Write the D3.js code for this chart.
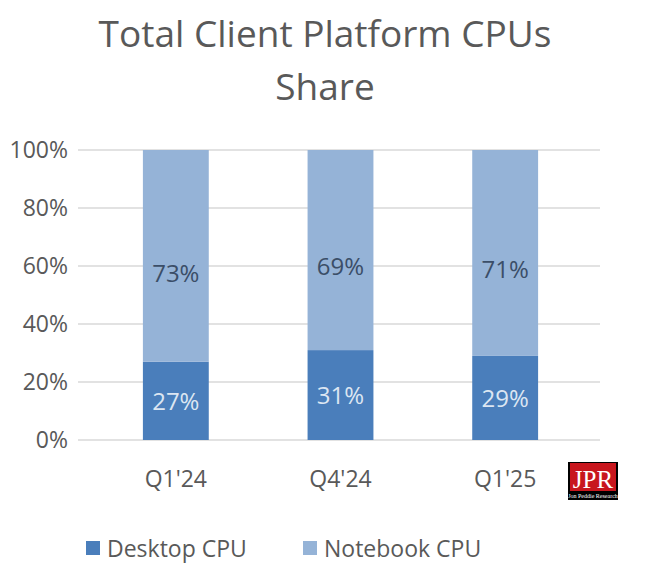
<!DOCTYPE html><html><head><meta charset="utf-8">
<script src="https://cdn.jsdelivr.net/npm/d3@7"></script>
<style>body{margin:0;background:#fff}text{font-family:"Open Sans",sans-serif}</style></head><body>
<svg id="c" width="668" height="584"></svg>
<script>
const categories=["Q1'24","Q4'24","Q1'25"];
const desktop=[27,31,29];
const notebook=[73,69,71];
const yTicks=[0,20,40,60,80,100];
const svg=d3.select("#c");
const x=d3.scaleBand().domain(categories).range([93.5,587.5]).paddingInner(0.6).paddingOuter(0.3);
const y=d3.scaleLinear().domain([0,100]).range([440,150]);
svg.append("g").selectAll("line").data(yTicks).join("line").attr("x1",78).attr("x2",600).attr("y1",d=>y(d)).attr("y2",d=>y(d)).attr("stroke","#d9d9d9").attr("stroke-width",1.5);
svg.append("g").call(d3.axisLeft(y).tickValues(yTicks).tickSize(0).tickFormat(d=>d+"%"))
 .call(g=>{g.select(".domain").remove();g.selectAll("text").attr("x",68).attr("font-size",23).attr("fill","#595959").style("font-family","'Open Sans',sans-serif");});
const g=svg.append("g");
categories.forEach((c,i)=>{
 const cx=x(c)+x.bandwidth()/2;
 g.append("rect").attr("x",x(c)).attr("width",x.bandwidth()).attr("y",y(desktop[i])).attr("height",y(0)-y(desktop[i])).attr("fill","#4a7ebb");
 g.append("rect").attr("x",x(c)).attr("width",x.bandwidth()).attr("y",y(desktop[i]+notebook[i])).attr("height",y(desktop[i])-y(desktop[i]+notebook[i])).attr("fill","#95b3d7");
 g.append("text").attr("x",cx).attr("y",(y(0)+y(desktop[i]))/2+9).attr("text-anchor","middle").attr("font-size",24).attr("fill","#dce6f2").text(desktop[i]+"%");
 g.append("text").attr("x",cx).attr("y",y(desktop[i]+notebook[i]*0.42)+9).attr("text-anchor","middle").attr("font-size",24).attr("fill","#3b4e68").text(notebook[i]+"%");
 svg.append("text").attr("x",cx).attr("y",487).attr("text-anchor","middle").attr("font-size",23).attr("fill","#595959").text(c);
});
svg.append("text").attr("x",325).attr("y",47).attr("text-anchor","middle").attr("font-size",37).attr("fill","#595959").text("Total Client Platform CPUs");
svg.append("text").attr("x",325).attr("y",100).attr("text-anchor","middle").attr("font-size",37).attr("fill","#595959").text("Share");
const leg=[["Desktop CPU","#4a7ebb",86],["Notebook CPU","#95b3d7",303]];
leg.forEach(([t,c,lx])=>{svg.append("rect").attr("x",lx).attr("y",541).attr("width",14).attr("height",14).attr("fill",c);
 svg.append("text").attr("x",lx+21).attr("y",557).attr("font-size",23).attr("fill","#595959").text(t);});
svg.append("rect").attr("x",568).attr("y",462).attr("width",50).attr("height",38).attr("fill","#000");
svg.append("rect").attr("x",570).attr("y",463).attr("width",46).attr("height",28).attr("fill","#c8161d");
svg.append("text").attr("x",593).attr("y",488).attr("text-anchor","middle").attr("font-size",25).attr("fill","#fff").style("font-family","'Liberation Serif',serif").text("JPR");
svg.append("text").attr("x",593).attr("y",498).attr("text-anchor","middle").attr("font-size",6).attr("fill","#fff").style("font-family","'Liberation Serif',serif").text("Jon Peddie Research");
</script></body></html>
